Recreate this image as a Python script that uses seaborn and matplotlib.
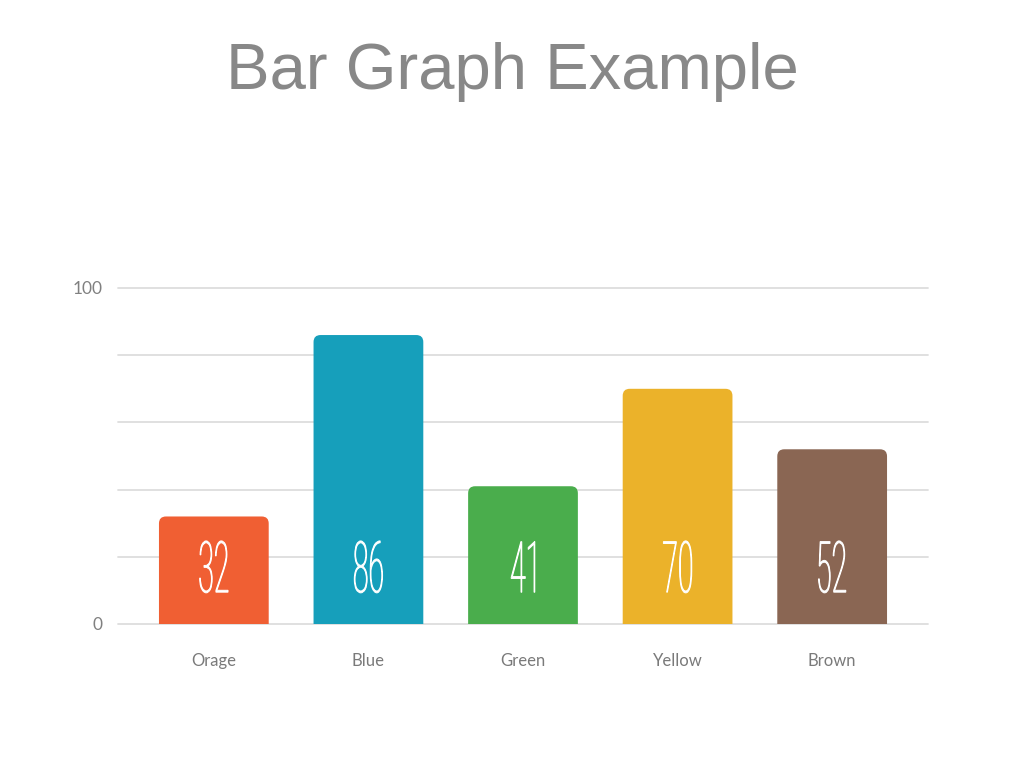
import numpy as np
import pandas as pd
import matplotlib
matplotlib.use("Agg")
import matplotlib.pyplot as plt
import seaborn as sns
from matplotlib.patches import FancyBboxPatch, PathPatch
from matplotlib.textpath import TextPath
from matplotlib.font_manager import FontProperties
from matplotlib.transforms import Affine2D, ScaledTranslation

# === Data ===
categories = ["Orage", "Blue", "Green", "Yellow", "Brown"]
values = [32, 86, 41, 70, 52]
colors = ["#F05F33", "#169FBB", "#4AAD4C", "#EBB22A", "#8A6653"]

df = pd.DataFrame({"category": categories, "value": values})

sns.set_theme(style="white")
plt.rcParams["font.family"] = ["Lato", "DejaVu Sans"]

fig = plt.figure(figsize=(10.24, 7.68), dpi=100)
ax = fig.add_axes([118 / 1024, 1 - 624 / 768, 810 / 1024, 336 / 768])

sns.barplot(data=df, x="category", y="value", hue="category", palette=colors,
            width=0.71, legend=False, ax=ax, saturation=1)

ax.set_xlim(-0.62, 4.62)
ax.set_ylim(0, 100)

# === Gridlines (drawn by hand so the top one isn't clipped) ===
for g in range(0, 101, 20):
    ax.axhline(g, color="#dddddd", lw=1.3, zorder=0, clip_on=False)

# === Rounded top corners on the bars ===
# bottom is pushed below 0 and clipped by the axes, so only the top is rounded
px_x = 810 / 5.24      # pixels per x unit
px_y = 336 / 100       # pixels per y unit
r_px = 7
for patch, col in zip(list(ax.patches), colors):
    x0, y0 = patch.get_x(), patch.get_y()
    w, h = patch.get_width(), patch.get_height()
    patch.set_visible(False)
    ext = 3 * r_px / px_y
    rb = FancyBboxPatch((x0, y0 - ext), w, h + ext,
                        boxstyle=f"round,pad=0,rounding_size={r_px / px_x}",
                        mutation_aspect=px_x / px_y,
                        fc=col, ec="none", zorder=2)
    ax.add_patch(rb)

# === Condensed white value labels inside bars ===
fp = FontProperties(family="Roboto", weight="light")
ref = TextPath((0, 0), "0", size=100, prop=fp).get_extents()
sy = 52 / ref.height
sx = sy * 0.40
for i, v in enumerate(values):
    tp = TextPath((0, 0), str(v), size=100, prop=fp)
    ext = tp.get_extents()
    tr = (Affine2D().translate(-(ext.x0 + ext.width / 2), -(ext.y0 + ext.height / 2))
          .scale(sx, sy)
          + ScaledTranslation(i, 17, ax.transData))
    ax.add_patch(PathPatch(tp, transform=tr, fc="white", ec="white", lw=0.7,
                           zorder=3, clip_on=False))

# === Axes styling ===
sns.despine(ax=ax, left=True, bottom=True, top=True, right=True)
ax.set_yticks([0, 100])
ax.set_yticklabels(["0", "100"])
ax.tick_params(axis="y", length=0, pad=11, labelsize=12.5, labelcolor="#808080")
ax.tick_params(axis="x", length=0, pad=21, labelsize=12, labelcolor="#7a7a7a")
ax.set_xlabel("")
ax.set_ylabel("")

fig.text(0.5, 1 - 89 / 768, "Bar Graph Example", ha="center", va="baseline",
         fontsize=47, color="#888888", family=["Liberation Sans", "DejaVu Sans"])

fig.savefig("out.png", dpi=100)
